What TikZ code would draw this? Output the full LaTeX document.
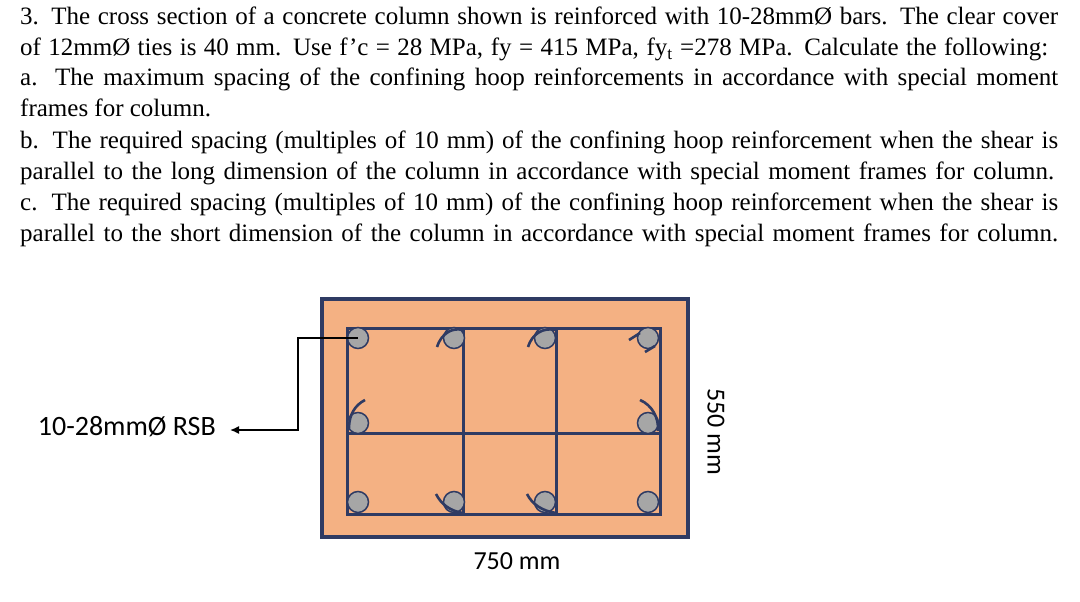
\documentclass[tikz,border=0pt]{standalone}
\usepackage{fontspec}
\usetikzlibrary{arrows.meta}
\setmainfont{Liberation Serif}
\newfontfamily\lab{Carlito}
\definecolor{conc}{HTML}{F4B183}
\definecolor{tie}{HTML}{2F3B63}
\definecolor{bar}{HTML}{A6A6A6}
\begin{document}
\begin{tikzpicture}[x=1pt,y=-1pt,
  ln/.style={anchor=base west,inner sep=0pt,font=\fontsize{25}{28}\selectfont},
  lb/.style={font=\lab\fontsize{26}{30}\selectfont,inner sep=0pt},
  rb/.style={circle,draw=tie,fill=bar,line width=1.5pt,minimum size=21pt,inner sep=0pt},
  tl/.style={draw=tie,line width=3pt},
  hk/.style={draw=tie,line width=2.6pt}]
\useasboundingbox (0,0) rectangle (1080,602);
\def\W{1038pt}
\node[ln] (l1) at (20,25) {\makebox[\W][s]{3. The cross section of a concrete column shown is reinforced with 10-28mmØ bars. The clear cover}};
\node[ln] (l2) at (20,56) {\makebox[1028pt][s]{of 12mmØ ties is 40 mm. Use f’c = 28 MPa, fy = 415 MPa, fy\textsubscript{t} =278 MPa. Calculate the following:}};
\node[ln] (l3) at (20,86) {\makebox[\W][s]{a. The maximum spacing of the confining hoop reinforcements in accordance with special moment}};
\node[ln] (l4) at (20,117) {frames for column.};
\node[ln] (l5) at (20,148) {\makebox[\W][s]{b. The required spacing (multiples of 10 mm) of the confining hoop reinforcement when the shear is}};
\node[ln] (l6) at (20,179) {\makebox[1034pt][s]{parallel to the long dimension of the column in accordance with special moment frames for column.}};
\node[ln] (l7) at (20,210) {\makebox[\W][s]{c. The required spacing (multiples of 10 mm) of the confining hoop reinforcement when the shear is}};
\node[ln] (l8) at (20,241) {\makebox[\W][s]{parallel to the short dimension of the column in accordance with special moment frames for column.}};
% column
\draw[draw=tie,fill=conc,line width=3.5pt] (322,299) rectangle (688,537);
\draw[tl] (347,328) rectangle (660,514);
\draw[tl] (463,328) -- (463,514);
\draw[tl] (556,328) -- (556,514);
\draw[tl] (347,433) -- (660,433);
% bars
\foreach \n/\x/\y in {a/358/338,b/454/338,c/545/338,d/648/338,e/358/423,f/648/423,g/358/502,h/454/502,i/545/502,j/648/502}
  \node[rb] (\n) at (\x,\y) {};
% hooks
\draw[hk] (437,347) .. controls (441,334) and (452,327) .. (463,330);
\draw[hk] (528,347) .. controls (532,334) and (543,327) .. (556,330);
\draw[hk] (629,340) -- (640,333);
\draw[hk] (645,352) -- (655,346);
\draw[hk] (365,400) .. controls (355,405) and (349,415) .. (349,428);
\draw[hk] (640,400) .. controls (652,405) and (659,418) .. (658,431);
\draw[hk] (436,494) .. controls (441,504) and (450,511) .. (463,513);
\draw[hk] (527,494) .. controls (532,504) and (542,511) .. (556,513);
% leader
\node[lb,anchor=east,font=\lab\fontsize{28}{32}\selectfont] (rsb) at (216,427) {10-28mmØ RSB};
\coordinate (k1) at (298,338);
\coordinate (k2) at (298,430);
\coordinate (tip) at (230,430);
\draw[line width=1.5pt,-{Latex[length=9pt,width=8pt]}] (a.center) -- (k1) -- (k2) -- (tip);
\node[lb,rotate=-90] (h) at (716,432) {550 mm};
\node[lb] (w) at (517,561) {750 mm};
\end{tikzpicture}
\end{document}
